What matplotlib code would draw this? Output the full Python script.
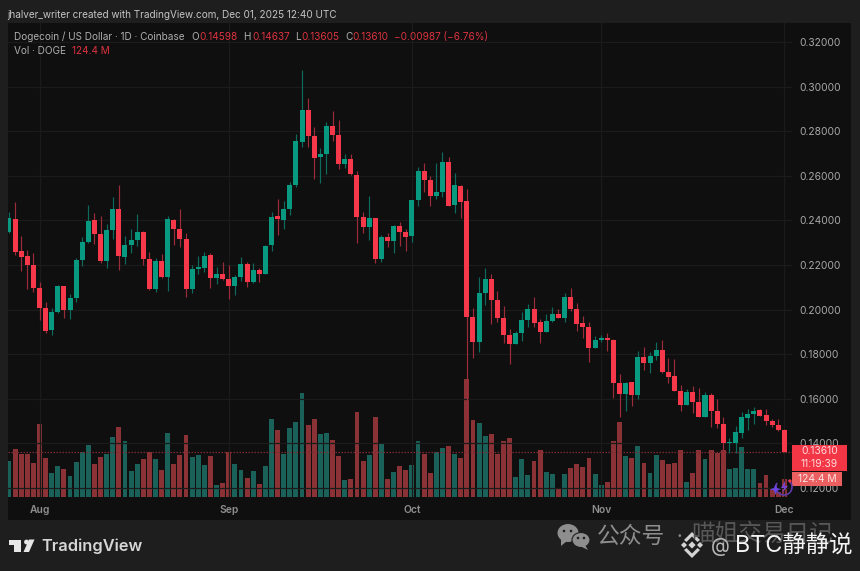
#!/usr/bin/env python3
# -*- coding: utf-8 -*-

import numpy as np
import pandas as pd
import matplotlib
matplotlib.use("Agg")
import matplotlib.pyplot as plt
import matplotlib.dates as mdates
from matplotlib.patches import Rectangle, Polygon, Ellipse, Arc, Circle

# daily candles, 27 Jul - 1 Dec 2025
opens = [
    .2349, .2408, .2263, .2239, .2198, .2097, .2009, .1908, .1988, .2104,
    .1997, .2052, .2222, .2303, .2400, .2337, .2219, .2355, .2450, .2237,
    .2288, .2312, .2346, .2228, .2094, .2216, .2148, .2403, .2360, .2318,
    .2094, .2183, .2188, .2243, .2140, .2161, .2136, .2107, .2148, .2204,
    .2122, .2177, .2161, .2288, .2418, .2402, .2453, .2559, .2753, .2894,
    .2778, .2683, .2699, .2825, .2784, .2653, .2675, .2605, .2414, .2370,
    .2412, .2228, .2324, .2308, .2373, .2348, .2329, .2492, .2622, .2583,
    .2508, .2527, .2660, .2469, .2556, .2486, .1967, .1853, .2073, .2139,
    .2045, .1962, .1885, .1846, .1895, .1953, .2001, .1943, .1900, .1949,
    .1979, .1964, .2056, .2003, .1938, .1923, .1826, .1864, .1874, .1864,
    .1672, .1622, .1675, .1616, .1788, .1759, .1794, .1817, .1720, .1702,
    .1637, .1574, .1631, .1584, .1520, .1617, .1544, .1487, .1400, .1400,
    .1448, .1515, .1530, .1548, .1526, .1502, .1484, .14598,
]
highs = [
    .2439, .2484, .2330, .2267, .2255, .2125, .2035, .2006, .2110, .2107,
    .2070, .2230, .2327, .2469, .2435, .2420, .2382, .2506, .2559, .2331,
    .2363, .2427, .2354, .2257, .2230, .2248, .2421, .2406, .2450, .2345,
    .2200, .2240, .2257, .2255, .2189, .2215, .2200, .2155, .2234, .2212,
    .2207, .2185, .2290, .2439, .2494, .2487, .2571, .2787, .3074, .2950,
    .2820, .2723, .2840, .2891, .2850, .2696, .2698, .2623, .2439, .2509,
    .2412, .2334, .2345, .2379, .2391, .2361, .2492, .2638, .2656, .2599,
    .2656, .2705, .2683, .2611, .2559, .2539, .2009, .2145, .2185, .2158,
    .2085, .2016, .1911, .1906, .1988, .2025, .2058, .1956, .1979, .2010,
    .2001, .2073, .2095, .2031, .1973, .1946, .1882, .1886, .1894, .1867,
    .1710, .1677, .1677, .1816, .1834, .1811, .1856, .1864, .1785, .1777,
    .1662, .1644, .1657, .1647, .1629, .1625, .1598, .1520, .1423, .1478,
    .1539, .1553, .1565, .1554, .1556, .1508, .1509, .14637,
]
lows = [
    .2342, .2245, .2175, .2091, .2080, .1953, .1893, .1886, .1986, .1961,
    .1956, .2032, .2195, .2300, .2294, .2210, .2188, .2315, .2177, .2203,
    .2255, .2285, .2200, .2088, .2077, .2140, .2083, .2290, .2279, .2058,
    .2073, .2160, .2167, .2095, .2115, .2133, .2047, .2065, .2130, .2103,
    .2120, .2122, .2160, .2264, .2334, .2360, .2424, .2551, .2728, .2731,
    .2586, .2566, .2608, .2756, .2630, .2633, .2604, .2300, .2342, .2312,
    .2207, .2215, .2279, .2252, .2285, .2263, .2305, .2466, .2526, .2466,
    .2495, .2506, .2465, .2432, .2412, .1500, .1784, .1808, .2022, .1934,
    .1946, .1849, .1756, .1846, .1861, .1920, .1920, .1852, .1898, .1946,
    .1962, .1946, .1992, .1904, .1871, .1766, .1826, .1853, .1816, .1602,
    .1517, .1545, .1569, .1598, .1729, .1714, .1774, .1717, .1672, .1635,
    .1545, .1572, .1538, .1517, .1517, .1472, .1468, .1335, .1355, .1358,
    .1426, .1460, .1487, .1523, .1483, .1475, .1457, .13605,
]
closes = [
    .2409, .2260, .2237, .2200, .2095, .2009, .1905, .1988, .2104, .1997,
    .2053, .2224, .2303, .2399, .2339, .2218, .2357, .2450, .2240, .2290,
    .2312, .2346, .2225, .2094, .2216, .2145, .2405, .2360, .2318, .2094,
    .2182, .2189, .2242, .2140, .2161, .2136, .2107, .2148, .2204, .2122,
    .2179, .2158, .2285, .2414, .2405, .2453, .2560, .2755, .2894, .2778,
    .2681, .2698, .2823, .2784, .2653, .2677, .2607, .2414, .2370, .2412,
    .2228, .2327, .2309, .2373, .2347, .2327, .2490, .2622, .2581, .2509,
    .2529, .2660, .2466, .2557, .2484, .1967, .1853, .2074, .2139, .2043,
    .1962, .1885, .1846, .1897, .1955, .2001, .1941, .1898, .1950, .1979,
    .1964, .2056, .2001, .1935, .1922, .1826, .1864, .1874, .1864, .1672,
    .1622, .1672, .1616, .1788, .1759, .1794, .1817, .1719, .1699, .1637,
    .1574, .1632, .1584, .1520, .1617, .1544, .1489, .1402, .1406, .1450,
    .1517, .1532, .1547, .1524, .1502, .1484, .1462, .13610,
]
# million DOGE
volumes = [
    246, 334, 294, 294, 232, 506, 271, 163, 216, 191,
    145, 242, 311, 361, 228, 276, 299, 414, 483, 384,
    179, 225, 262, 313, 260, 184, 444, 225, 292, 430,
    274, 290, 223, 285, 81, 99, 308, 225, 189, 133,
    182, 87, 212, 538, 460, 294, 476, 518, 720, 497,
    538, 435, 444, 396, 283, 117, 122, 589, 248, 290,
    552, 366, 124, 173, 212, 184, 219, 389, 297, 168,
    308, 340, 354, 294, 267, 812, 534, 513, 421, 432,
    294, 386, 409, 138, 265, 152, 248, 327, 173, 159,
    55, 156, 198, 225, 205, 271, 161, 81, 104, 389,
    520, 285, 267, 350, 235, 168, 290, 253, 228, 237,
    324, 104, 166, 324, 262, 324, 304, 327, 196, 202,
    345, 196, 196, 97, 150, 64, 35, 124.4,
]
price_ticks = [0.12, 0.14, 0.16, 0.18, 0.20, 0.22, 0.24, 0.26, 0.28, 0.30, 0.32]
month_ticks = ["2025-08-01", "2025-09-01", "2025-10-01", "2025-11-01", "2025-12-01"]
month_labels = ["Aug", "Sep", "Oct", "Nov", "Dec"]

BG = "#1e1e1e"
PANEL = "#0f0f0f"
GRID = "#1b1b1b"
UP = "#089981"
DOWN = "#f7374a"
UP_WICK = "#0c6b5d"
DOWN_WICK = "#9c2c39"
UP_VOL = "#1a6259"
DOWN_VOL = "#8a3235"
HEAD_RED = "#dc323f"
LABEL = "#a8a8a8"
HEAD = 7.2

plt.rcParams["font.family"] = ["Inter", "Noto Sans CJK SC", "DejaVu Sans"]

W, H = 860, 571
fig = plt.figure(figsize=(W / 100, H / 100), dpi=100, facecolor=BG)

# overlay in pixel coordinates for everything around the chart
deco = fig.add_axes([0, 0, 1, 1], zorder=0)
deco.set_xlim(0, W)
deco.set_ylim(H, 0)
deco.axis("off")
deco.add_patch(Rectangle((8, 23), 843, 497, fc=PANEL, ec="none"))

# chart area 8..792 x 23..497 px
ax = fig.add_axes([8 / W, 1 - 497 / H, 784 / W, 474 / H], zorder=2)
ax.patch.set_visible(False)
vol = ax.twinx()
vol.set_zorder(1)
vol.patch.set_visible(False)
ax.set_zorder(vol.get_zorder() + 1)

dates = pd.date_range("2025-07-27", periods=len(closes), freq="D")
x = mdates.date2num(dates)
o, h, l, c = map(np.array, (opens, highs, lows, closes))
up = c >= o

day0 = x[0]
ax.set_xlim(day0 - 0.16, day0 + 128.25)
ax.set_ylim(0.11596, 0.3285)
vol.set_ylim(0, 3271)

ax.set_yticks(price_ticks)
ax.set_yticklabels([f"{p:.5f}" for p in price_ticks])
ax.yaxis.tick_right()
ax.set_xticks(mdates.date2num(pd.to_datetime(month_ticks)))
ax.set_xticklabels(month_labels, fontweight="semibold")
ax.tick_params(axis="y", length=0, pad=5, labelsize=7.4, labelcolor=LABEL)
ax.tick_params(axis="x", length=0, pad=5.5, labelsize=7.4, labelcolor="#8f8f8f")
vol.set_yticks([])
ax.grid(True, color=GRID, linewidth=0.9)
ax.set_axisbelow(True)
for a in (ax, vol):
    for s in a.spines.values():
        s.set_visible(False)

vol.bar(x, volumes, width=0.8, color=[UP_VOL if u else DOWN_VOL for u in up], linewidth=0)

ax.vlines(x, l, h, colors=[UP_WICK if u else DOWN_WICK for u in up], linewidth=0.85, zorder=3)
ax.bar(x, np.abs(c - o), bottom=np.minimum(o, c), width=0.82,
       color=[UP if u else DOWN for u in up], linewidth=0, zorder=4)

ax.axhline(closes[-1], color="#7d2a32", linewidth=0.9, linestyle=(0, (1.2, 1.2)), zorder=2)


def txt(px, py, s, **kw):
    kw.setdefault("va", "center")
    kw.setdefault("ha", "left")
    return top.text(px, py, s, **kw)


# second overlay above the chart
top = fig.add_axes([0, 0, 1, 1], zorder=5)
top.set_xlim(0, W)
top.set_ylim(H, 0)
top.axis("off")

txt(7, 15, "jhalver_writer created with TradingView.com, Dec 01, 2025 12:40 UTC",
    fontsize=HEAD, color="#c4c4c4")

txt(14, 37, "Dogecoin / US Dollar · 1D · Coinbase", fontsize=HEAD, color="#adadad")
for xl, letter, xv, value in [
    (191, "O", 199, f"{opens[-1]:.5f}"),
    (243, "H", 252, f"{highs[-1]:.5f}"),
    (295, "L", 301, f"{lows[-1]:.5f}"),
    (345, "C", 352, f"{closes[-1]:.5f}"),
]:
    txt(xl, 37, letter, fontsize=HEAD, color="#adadad")
    txt(xv, 37, value, fontsize=HEAD, color=HEAD_RED)
txt(394, 37, "\u22120.00987 (\u22126.76%)", fontsize=HEAD, color=HEAD_RED)
txt(14, 51, "Vol · DOGE", fontsize=HEAD, color="#adadad")
txt(72, 51, "124.4 M", fontsize=HEAD, color=HEAD_RED)

# last price and volume tags
top.add_patch(Rectangle((792, 445), 55, 26, fc="#f23645", ec="none"))
txt(819.5, 451.5, f"{closes[-1]:.5f}", fontsize=7.4, color="#ffd9dc", ha="center")
txt(819.5, 464, "11:19:39", fontsize=7.4, color="#ffd9dc", ha="center")
top.add_patch(Rectangle((792, 472), 50, 14, fc="#ea5f60", ec="none"))
txt(817, 479, "124.4 M", fontsize=7.4, color="#ffe3e3", ha="center")

# small purple badge near the last bar
top.add_patch(Arc((784, 487), 16, 16, theta1=-60, theta2=210, color="#5f3aa8", linewidth=1.2))
top.add_patch(Polygon([(785, 481), (781, 488), (784, 488), (782, 493), (788, 486), (785, 486)],
                      fc="#7a45c8", ec="none"))
top.add_patch(Polygon([(775.5, 484), (777, 488), (781, 489.3), (777, 490.6),
                       (775.5, 495), (774, 490.6), (770, 489.3), (774, 488)],
                      fc="#6a45e0", ec="none"))
top.add_patch(Circle((790, 481), 1.6, fc="#f23645", ec="none"))

# TradingView logo
logo = "#e6e6e6"
top.add_patch(Polygon([(9, 539.5), (21, 539.5), (21, 552), (14, 552), (14, 544.5), (9, 544.5)], fc=logo, ec="none"))
top.add_patch(Circle((26.5, 542), 2.4, fc=logo, ec="none"))
top.add_patch(Polygon([(29, 539.5), (34.5, 539.5), (29, 552), (23.5, 552)], fc=logo, ec="none"))
txt(41, 546, "TradingView", fontsize=11.8, color="#d6d6d6", fontweight="semibold")

# wechat watermark
grey = "#8e8e8e"
top.add_patch(Ellipse((568, 533), 21, 18, fc=grey, ec="none"))
top.add_patch(Polygon([(561, 539), (561, 546), (567, 541)], fc=grey, ec="none"))
top.add_patch(Ellipse((581, 540), 18, 15, fc=grey, ec=BG, linewidth=0.8))
top.add_patch(Polygon([(585, 545), (588, 550), (580, 546)], fc=grey, ec="none"))
for px, py, col in [(564, 531, BG), (571, 531, BG), (578, 538, BG), (584, 538, BG)]:
    top.add_patch(Circle((px, py), 1.3, fc=col, ec="none"))
txt(597, 537, "公众号", fontsize=16.4, color=grey)
txt(677, 538, "·", fontsize=14, color=grey)
txt(691, 535, "喵姐交易日记", fontsize=17, color="#575757")

# binance mark
bn = "#d4d4d4"
for cx, cy, r in [(692, 545, 3.6), (684, 545, 3), (700, 545, 3)]:
    top.add_patch(Polygon([(cx - r, cy), (cx, cy - r), (cx + r, cy), (cx, cy + r)], fc=bn, ec="none"))
top.add_patch(Polygon([(692, 532), (700, 540), (697.5, 542), (692, 536.5), (686.5, 542), (684, 540)], fc=bn, ec="none"))
top.add_patch(Polygon([(692, 558), (700, 550), (697.5, 548), (692, 553.5), (686.5, 548), (684, 550)], fc=bn, ec="none"))
txt(711, 547, "@", fontsize=14, color="#b8b8b8")
txt(735, 547, "BTC静静说", fontsize=16.8, color="#f4f4f4")

fig.savefig("out.png", dpi=100, facecolor=fig.get_facecolor())
